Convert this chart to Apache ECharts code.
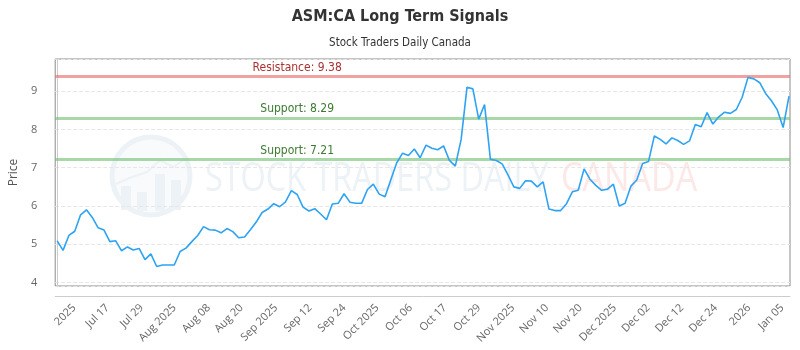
<!DOCTYPE html>
<html>
<head>
<meta charset="utf-8">
<script src="https://cdn.jsdelivr.net/npm/echarts@6/dist/echarts.min.js"></script>
<style>
html, body { margin: 0; padding: 0; background: #fff; }
#chart { width: 800px; height: 350px; }
</style>
</head>
<body>
<div id="chart"></div>
<script>
// closing prices, one per session
const prices = [
  5.09, 4.84, 5.23, 5.34, 5.77, 5.90, 5.70, 5.43, 5.37, 5.07,
  5.09, 4.83, 4.93, 4.85, 4.89, 4.60, 4.75, 4.42, 4.46, 4.46,
  4.46, 4.81, 4.90, 5.07, 5.23, 5.46, 5.38, 5.37, 5.30, 5.41,
  5.33, 5.17, 5.19, 5.38, 5.58, 5.83, 5.92, 6.06, 5.98, 6.11,
  6.40, 6.30, 5.97, 5.87, 5.93, 5.79, 5.64, 6.05, 6.07, 6.32,
  6.10, 6.07, 6.07, 6.43, 6.57, 6.31, 6.24, 6.69, 7.13, 7.38,
  7.32, 7.49, 7.26, 7.59, 7.51, 7.47, 7.57, 7.19, 7.04, 7.74,
  9.10, 9.06, 8.27, 8.65, 7.22, 7.19, 7.10, 6.81, 6.50, 6.46,
  6.66, 6.65, 6.50, 6.63, 5.92, 5.88, 5.88, 6.06, 6.37, 6.41,
  6.97, 6.70, 6.54, 6.41, 6.44, 6.57, 6.00, 6.07, 6.52, 6.68,
  7.11, 7.16, 7.83, 7.74, 7.62, 7.78, 7.71, 7.61, 7.70, 8.13,
  8.07, 8.44, 8.14, 8.33, 8.45, 8.42, 8.52, 8.84, 9.36, 9.32,
  9.22, 8.94, 8.75, 8.51, 8.05, 8.87
];

// date labels and where they sit along the session index
const tickLabels = [
  '2025', 'Jul 17', 'Jul 29', 'Aug 2025', 'Aug 08', 'Aug 20', 'Sep 2025', 'Sep 12',
  'Sep 24', 'Oct 2025', 'Oct 06', 'Oct 17', 'Oct 29', 'Nov 2025', 'Nov 10', 'Nov 20',
  'Dec 2025', 'Dec 02', 'Dec 12', 'Dec 24', '2026', 'Jan 05'
];
const tickPos = [
  2.90, 8.57, 14.43, 20.05, 25.89, 31.46, 37.36, 43.22, 49.01, 54.68, 60.39,
  66.22, 72.06, 77.85, 83.65, 89.39, 95.23, 100.97, 106.70, 112.49, 118.18, 123.85
];

const levelNames = ['Resistance', 'Support', 'Support'];
const levelValues = [9.38, 8.29, 7.21];

const chart = echarts.init(document.getElementById('chart'));

const axisFont = "'Open Sans', sans-serif";
const titleFont = "'DejaVu Sans Condensed', sans-serif";
const markFont = "'DejaVu Sans Condensed', sans-serif";

const levelLines = levelValues.map((v, i) => {
  const isRes = levelNames[i] === 'Resistance';
  return {
    yAxis: v,
    lineStyle: {
      color: isRes ? 'rgba(232,110,110,0.65)' : 'rgba(110,190,110,0.6)',
      width: 3,
      type: 'solid'
    },
    label: {
      formatter: levelNames[i] + ': ' + v,
      color: isRes ? '#a83232' : '#3d7a32'
    }
  };
});

// faint site watermark
const wmBlue = '#edf2f6';
const watermark = [
  {
    type: 'circle', shape: { cx: 151, cy: 176, r: 39 },
    style: { fill: 'rgba(235,242,247,0.35)', stroke: wmBlue, lineWidth: 5 }, z: 0, silent: true
  },
  { type: 'rect', shape: { x: 121, y: 186, width: 10, height: 24 }, style: { fill: wmBlue }, z: 0, silent: true },
  { type: 'rect', shape: { x: 137, y: 192, width: 10, height: 19 }, style: { fill: wmBlue }, z: 0, silent: true },
  { type: 'rect', shape: { x: 155, y: 174, width: 10, height: 37 }, style: { fill: wmBlue }, z: 0, silent: true },
  { type: 'rect', shape: { x: 171, y: 180, width: 10, height: 30 }, style: { fill: wmBlue }, z: 0, silent: true },
  {
    type: 'polyline', shape: { points: [[116, 184], [132, 177], [147, 172], [160, 160], [173, 167], [188, 157]] },
    style: { stroke: wmBlue, lineWidth: 2, fill: null }, z: 0, silent: true
  },
  {
    type: 'text', x: 205, y: 160, scaleX: 0.81, z: 0, silent: true,
    style: { text: 'STOCK TRADERS DAILY', fill: wmBlue, font: "40px 'Open Sans', sans-serif" }
  },
  {
    type: 'text', x: 561, y: 160, scaleX: 0.85, z: 0, silent: true,
    style: { text: 'CANADA', fill: '#fde8e8', font: "40px 'Open Sans', sans-serif" }
  }
];

const option = {
  animation: false,
  backgroundColor: '#fff',
  title: [
    {
      text: 'ASM:CA Long Term Signals',
      left: 'center', top: 4,
      textStyle: { fontFamily: titleFont, fontSize: 16, fontWeight: 'bold', color: '#333' }
    },
    {
      text: 'Stock Traders Daily Canada',
      left: 'center', top: 32,
      textStyle: { fontFamily: titleFont, fontSize: 11.5, fontWeight: 'normal', color: '#333' }
    }
  ],
  graphic: watermark,
  grid: {
    left: 53, right: 10, top: 59, bottom: 64,
    show: true, borderColor: '#8a8a8a', borderWidth: 1, backgroundColor: 'transparent'
  },
  xAxis: {
    type: 'value',
    min: -0.34,
    max: 125.17,
    offset: 10,
    axisLine: { show: true, lineStyle: { color: '#cccccc' } },
    axisTick: { show: false },
    splitLine: { show: false },
    axisLabel: {
      customValues: tickPos,
      rotate: 45,
      margin: 10,
      fontFamily: axisFont,
      fontSize: 11,
      color: '#666',
      formatter: (val) => {
        const k = tickPos.findIndex(p => Math.abs(p - val) < 1e-6);
        return k >= 0 ? tickLabels[k] : '';
      }
    }
  },
  yAxis: {
    type: 'value',
    min: 3.91,
    max: 9.84,
    splitNumber: 6,
    offset: 10,
    name: 'Price',
    nameLocation: 'middle',
    nameGap: 24,
    nameTextStyle: { fontFamily: axisFont, fontSize: 12, color: '#555' },
    axisLine: { show: true, lineStyle: { color: '#cccccc' } },
    axisTick: { show: false },
    axisLabel: {
      fontFamily: axisFont, fontSize: 11, color: '#666', margin: 8,
      showMinLabel: false, showMaxLabel: false
    },
    splitLine: { show: true, lineStyle: { color: '#e6e6e6', type: 'dashed' } }
  },
  series: [
    {
      type: 'line',
      data: prices.map((v, i) => [i, v]),
      showSymbol: false,
      symbol: 'none',
      lineStyle: { color: '#2ea3f2', width: 1.6 },
      itemStyle: { color: '#2ea3f2' },
      z: 3,
      markLine: {
        silent: true,
        symbol: 'none',
        z: 2,
        label: {
          position: 'insideStartTop',
          distance: [242, 3],
          align: 'center',
          fontFamily: markFont,
          fontSize: 12
        },
        data: levelLines
      }
    }
  ]
};

chart.setOption(option);
</script>
</body>
</html>
